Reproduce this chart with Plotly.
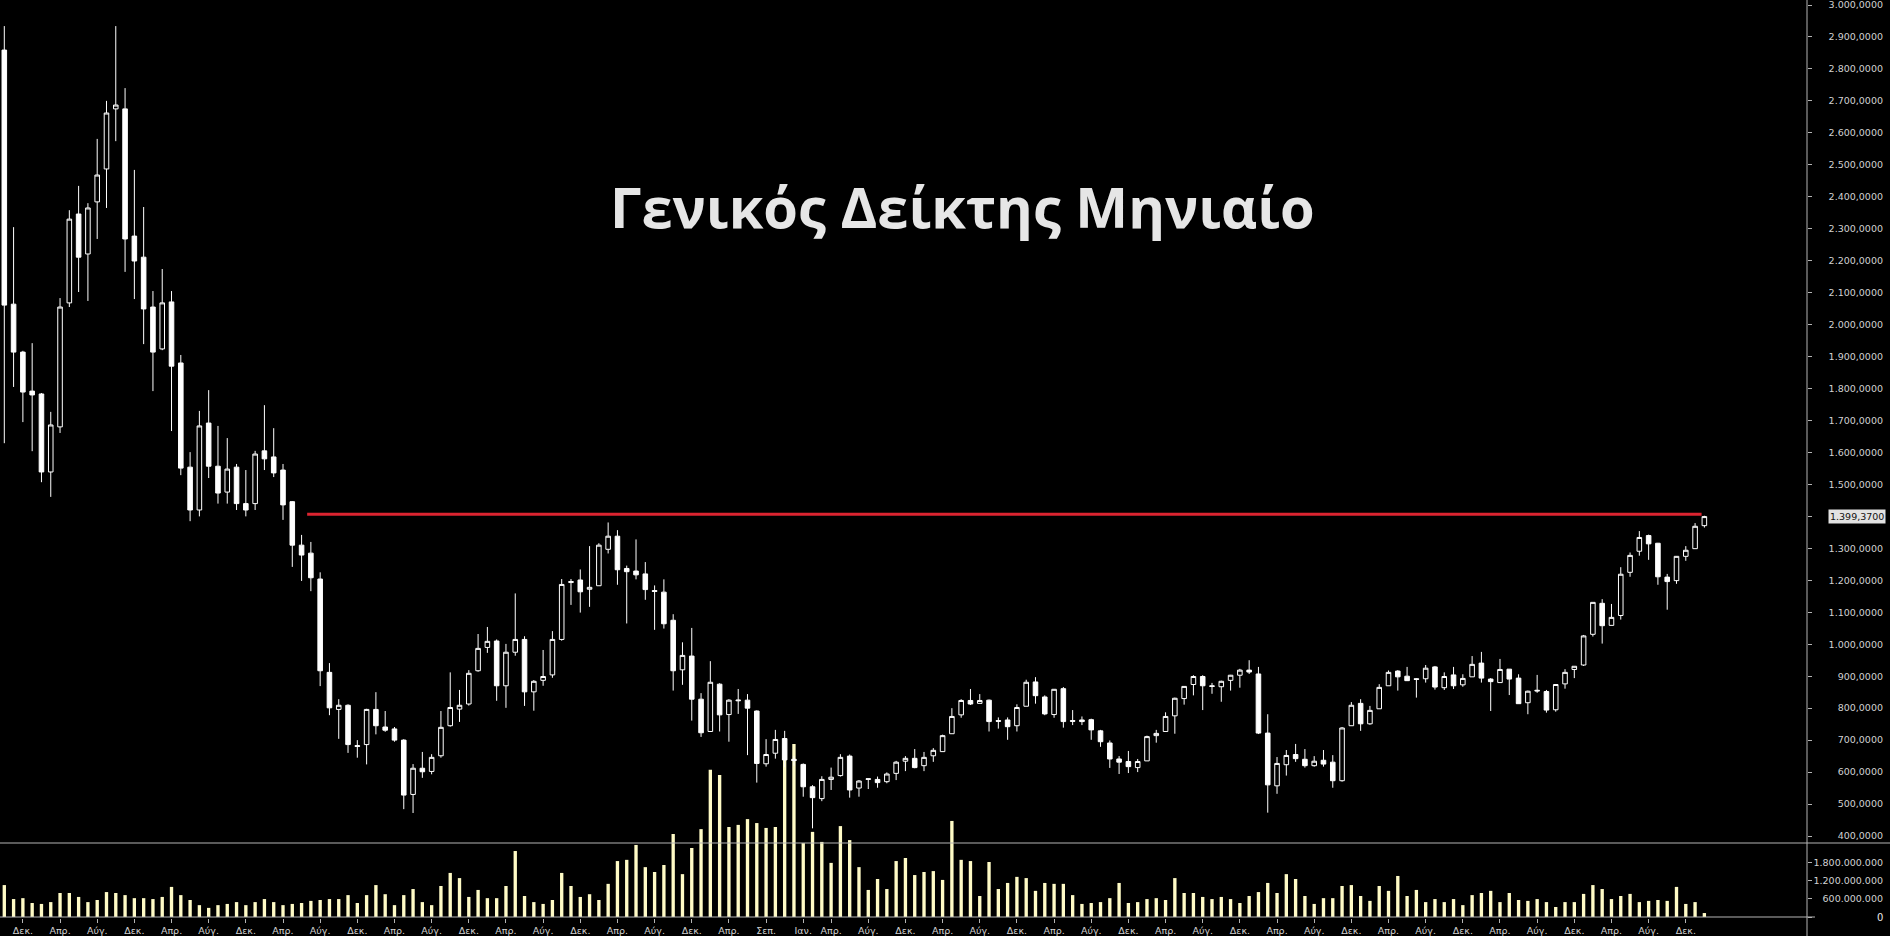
import plotly.graph_objects as go
import pandas as pd

# ---------------- data ----------------
months = [p.strftime('%Y-%m') for p in pd.period_range('2008-10', '2024-02', freq='M')
          if p.strftime('%Y-%m') != '2015-07']

open_ = [2859, 2064, 1914, 1792, 1783, 1539, 1680, 2068, 2346, 2221,
         2384, 2487, 2675, 2675, 2277, 2211, 2055, 1924, 2071, 1880,
         1554, 1420, 1692, 1557, 1476, 1554, 1440, 1440, 1605, 1586,
         1545, 1446, 1310, 1285, 1204, 912, 796, 809, 683, 686,
         796, 741, 735, 700, 530, 612, 602, 651, 745, 797,
         813, 917, 990, 1010, 870, 975, 1015, 851, 887, 904,
         1015, 1193, 1201, 1172, 1183, 1297, 1338, 1237, 1229, 1220,
         1168, 1163, 1075, 920, 963, 828, 727, 875, 780, 823,
         825, 791, 626, 659, 705, 640, 624, 554, 517, 577,
         589, 650, 550, 577, 577, 570, 596, 634, 643, 620,
         651, 664, 720, 779, 824, 815, 825, 761, 763, 745,
         806, 882, 835, 780, 861, 761, 763, 764, 729, 691,
         641, 633, 614, 635, 714, 727, 776, 830, 874, 899,
         870, 867, 887, 903, 919, 907, 722, 557, 623, 655,
         640, 620, 637, 631, 573, 745, 815, 751, 798, 870,
         916, 900, 892, 892, 929, 864, 904, 873, 898, 941,
         891, 880, 922, 894, 817, 856, 852, 795, 876, 921,
         935, 1031, 1128, 1059, 1090, 1225, 1291, 1340, 1316, 1210,
         1199, 1275, 1299, 1371]
high = [2934, 2305, 1918, 1942, 1786, 1727, 2083, 2358, 2434, 2380,
        2581, 2700, 2934, 2740, 2484, 2368, 2105, 2174, 2105, 1905,
        1601, 1730, 1795, 1683, 1645, 1564, 1545, 1605, 1748, 1676,
        1564, 1448, 1342, 1320, 1225, 941, 828, 812, 700, 798,
        850, 791, 741, 703, 625, 663, 656, 791, 912, 857,
        919, 1032, 1054, 1015, 1001, 1159, 1025, 888, 982, 1041,
        1204, 1204, 1234, 1307, 1316, 1381, 1357, 1246, 1328, 1257,
        1184, 1203, 1094, 1006, 1051, 847, 947, 878, 828, 860,
        844, 793, 703, 732, 729, 650, 627, 559, 587, 614,
        656, 655, 575, 580, 586, 599, 635, 650, 672, 663,
        675, 717, 800, 828, 860, 844, 827, 771, 771, 812,
        889, 897, 840, 860, 866, 794, 774, 767, 732, 699,
        650, 666, 641, 714, 732, 787, 833, 868, 903, 903,
        879, 886, 904, 923, 950, 929, 781, 647, 669, 688,
        672, 650, 669, 653, 741, 819, 828, 807, 875, 918,
        919, 929, 894, 935, 932, 912, 929, 906, 963, 976,
        894, 954, 922, 906, 855, 904, 857, 874, 922, 931,
        1029, 1131, 1141, 1126, 1241, 1287, 1354, 1343, 1317, 1220,
        1276, 1307, 1379, 1402]
low = [1629, 1805, 1695, 1604, 1507, 1461, 1661, 2055, 2102, 2074,
       2268, 2365, 2574, 2165, 2080, 1939, 1792, 1920, 1667, 1529,
       1385, 1400, 1520, 1440, 1440, 1420, 1400, 1420, 1545, 1523,
       1389, 1242, 1198, 1166, 869, 778, 704, 660, 645, 624,
       718, 726, 695, 484, 472, 582, 593, 645, 742, 757,
       808, 914, 973, 823, 801, 964, 807, 792, 870, 895,
       1011, 1123, 1099, 1117, 1183, 1284, 1186, 1065, 1203, 1139,
       1045, 1049, 855, 873, 761, 710, 727, 727, 695, 782,
       653, 567, 617, 642, 615, 620, 523, 424, 509, 544,
       586, 520, 523, 547, 551, 565, 575, 603, 612, 603,
       632, 664, 720, 770, 810, 815, 727, 736, 701, 727,
       806, 814, 778, 770, 739, 747, 747, 701, 679, 613,
       594, 597, 600, 635, 692, 727, 720, 811, 840, 794,
       845, 820, 855, 864, 907, 719, 473, 532, 589, 632,
       614, 617, 617, 551, 570, 745, 729, 748, 798, 870,
       855, 886, 833, 880, 858, 857, 860, 867, 898, 880,
       791, 880, 841, 814, 781, 848, 786, 789, 861, 894,
       932, 1024, 1002, 1059, 1077, 1211, 1277, 1264, 1186, 1108,
       1189, 1261, 1299, 1365]
close = [2061, 1914, 1789, 1780, 1539, 1686, 2055, 2330, 2211, 2365,
         2468, 2662, 2687, 2268, 2199, 2049, 1914, 2068, 1870, 1551,
         1420, 1683, 1557, 1473, 1548, 1440, 1420, 1595, 1580, 1536,
         1436, 1310, 1279, 1208, 917, 801, 809, 686, 680, 796,
         745, 731, 700, 528, 612, 601, 646, 740, 802, 809,
         909, 987, 1009, 870, 975, 1015, 851, 884, 899, 1015,
         1187, 1196, 1164, 1178, 1310, 1338, 1233, 1227, 1217, 1171,
         1165, 1064, 917, 965, 828, 723, 881, 779, 825, 825,
         800, 627, 655, 702, 638, 636, 554, 520, 577, 584,
         646, 544, 572, 579, 567, 594, 631, 643, 614, 646,
         668, 714, 774, 824, 813, 824, 758, 759, 742, 802,
         881, 839, 782, 859, 758, 759, 758, 732, 695, 641,
         631, 617, 633, 711, 721, 774, 831, 868, 899, 870,
         868, 884, 903, 919, 913, 722, 560, 627, 652, 642,
         620, 634, 625, 573, 738, 809, 751, 793, 865, 912,
         898, 886, 890, 925, 866, 899, 870, 893, 937, 894,
         883, 921, 891, 814, 853, 854, 794, 874, 912, 931,
         1026, 1131, 1058, 1084, 1219, 1278, 1334, 1314, 1211, 1196,
         1275, 1294, 1369, 1399.37]
# volume in millions
volume_m = [1050, 590, 620, 460, 430, 490, 790, 790, 660, 490,
            560, 820, 790, 720, 620, 620, 590, 660, 990, 720,
            560, 390, 300, 390, 430, 490, 390, 490, 590, 490,
            390, 430, 460, 530, 560, 590, 590, 720, 460, 720,
            1050, 750, 390, 720, 920, 490, 390, 1020, 1450, 1280,
            660, 890, 620, 620, 1020, 2170, 690, 490, 430, 560,
            1450, 1020, 660, 750, 560, 1090, 1840, 1880, 2370, 1640,
            1480, 1710, 2730, 1410, 2270, 2890, 4840, 4670, 2960, 3030,
            3220, 3090, 2930, 2960, 5500, 5690, 2430, 2800, 2470, 1780,
            2990, 2530, 1640, 890, 1250, 920, 1840, 1940, 1380, 1480,
            1510, 1220, 3160, 1880, 1840, 690, 1810, 920, 1120, 1320,
            1280, 860, 1120, 1090, 1090, 720, 430, 460, 490, 620,
            1120, 460, 490, 590, 620, 560, 1280, 790, 790, 660,
            590, 660, 590, 460, 690, 820, 1120, 790, 1410, 1250,
            690, 430, 620, 620, 1020, 1050, 690, 530, 1020, 860,
            1350, 690, 890, 490, 590, 490, 590, 390, 720, 790,
            860, 490, 790, 560, 530, 590, 490, 330, 490, 490,
            760, 1050, 920, 590, 690, 760, 490, 530, 560, 530,
            990, 430, 490, 130]
volume = [v * 1e6 for v in volume_m]

tick_months = (['2008-12']
               + [f'{y}-{m}' for y in range(2009, 2015) for m in ('04', '08', '12')]
               + ['2015-04', '2015-09', '2016-01']
               + [f'{y}-{m}' for y in range(2016, 2024) for m in ('04', '08', '12')])
month_abbr = {'01': 'Ιαν.', '04': 'Απρ.', '08': 'Αύγ.', '09': 'Σεπ.', '12': 'Δεκ.'}
tick_text = [month_abbr[t[5:]] for t in tick_months]

price_ticks = list(range(400, 3001, 100))
volume_ticks = [0, 600_000_000, 1_200_000_000, 1_800_000_000]
resistance_level = 1407
resistance_span = (32.6, 182.7)
title_text = 'Γενικός Δείκτης Μηνιαίο'

# ---------------- helpers ----------------
def gr_price(v):
    s = f'{v:,.4f}'
    return s.replace(',', '#').replace('.', ',').replace('#', '.')

def gr_int(v):
    return f'{int(v):,}'.replace(',', '.')

last_close = close[-1]
price_ticktext = ['' if v == 1400 else gr_price(v) for v in price_ticks]
volume_ticktext = [gr_int(v) for v in volume_ticks]

# ---------------- geometry ----------------
W, H = 1890, 936
M_R, M_B = 5, 18
PLOT_W = W - M_R
PLOT_H = H - M_B
AXIS_X = 1807                       # pixel of right price axis line
XD = AXIS_X / PLOT_W
BAR_X0, BAR_STEP = 4.3, 9.29        # pixel of first bar, pixel spacing
x_range = [-BAR_X0 / BAR_STEP, (AXIS_X - BAR_X0) / BAR_STEP]
PX_PER_UNIT = (836 - 5) / (3000 - 400)
price_range = [400 - (PLOT_H - 836) / PX_PER_UNIT, 3000 + 5 / PX_PER_UNIT]
VOL_PX_PER_B = 30.4
VOL_ZERO_Y = 917
vol_range = [-(PLOT_H - VOL_ZERO_Y) / VOL_PX_PER_B * 1e9, VOL_ZERO_Y / VOL_PX_PER_B * 1e9]
SEP_Y = 843

axis_col = '#b4b4b4'
label_col = '#d2d2d2'
tick_font = dict(family='DejaVu Sans', size=9.5, color=label_col)

fig = go.Figure()
fig.add_trace(go.Bar(x=months, y=volume, yaxis='y', width=0.36,
                     marker=dict(color='#fffbc6', line=dict(width=0)),
                     hoverinfo='skip', showlegend=False))
fig.add_trace(go.Candlestick(x=months, open=open_, high=high, low=low, close=close,
                             yaxis='y2',
                             increasing=dict(line=dict(color='#ffffff', width=1), fillcolor='#000000'),
                             decreasing=dict(line=dict(color='#ffffff', width=1), fillcolor='#ffffff'),
                             hoverinfo='skip', showlegend=False))
# invisible carriers for the label axes
fig.add_trace(go.Scatter(x=[months[0]], y=[1e9], yaxis='y3', mode='markers',
                         marker=dict(opacity=0), hoverinfo='skip', showlegend=False))
fig.add_trace(go.Scatter(x=[months[0]], y=[1000], yaxis='y4', mode='markers',
                         marker=dict(opacity=0), hoverinfo='skip', showlegend=False))

fig.update_layout(
    width=W, height=H,
    margin=dict(l=0, r=M_R, t=0, b=M_B, pad=0),
    paper_bgcolor='#000000', plot_bgcolor='rgba(0,0,0,0)',
    hovermode=False, showlegend=False,
    boxgap=0.3, boxgroupgap=0.3,
    xaxis=dict(type='category', categoryorder='array', categoryarray=months,
               domain=[0, XD], range=x_range, rangeslider=dict(visible=False),
               showgrid=False, zeroline=False, showline=False,
               ticks='outside', ticklen=4, tickcolor=axis_col, tickwidth=1,
               tickvals=tick_months, ticktext=tick_text, tickfont=tick_font,
               ticklabelstandoff=0, ticklabeloverflow='allow'),
    yaxis=dict(domain=[0, 1], range=vol_range, side='right', anchor='x',
               showgrid=False, zeroline=False, showline=False,
               ticks='outside', ticklen=4, tickcolor=axis_col,
               tickvals=volume_ticks, showticklabels=False),
    yaxis2=dict(overlaying='y', range=price_range, side='right', anchor='x',
                showgrid=False, zeroline=False, showline=False,
                ticks='outside', ticklen=4, tickcolor=axis_col,
                tickvals=price_ticks, showticklabels=False),
    yaxis3=dict(overlaying='y', range=vol_range, side='left', anchor='free', position=1,
                showgrid=False, zeroline=False, showline=False, ticks='',
                tickvals=volume_ticks[1:], ticktext=volume_ticktext[1:], tickfont=tick_font,
                ticklabelstandoff=2, ticklabeloverflow='allow'),
    yaxis4=dict(overlaying='y', range=price_range, side='left', anchor='free', position=1,
                showgrid=False, zeroline=False, showline=False, ticks='',
                tickvals=price_ticks, ticktext=price_ticktext, tickfont=tick_font,
                ticklabelstandoff=2, ticklabeloverflow='allow'),
)

sep_paper = (PLOT_H - SEP_Y) / PLOT_H
shapes = [
    # pane separator
    dict(type='line', xref='paper', yref='paper', x0=0, x1=W / PLOT_W, y0=sep_paper, y1=sep_paper,
         line=dict(color=axis_col, width=1)),
    # bottom axis line (volume zero), stopping short of the zero label
    dict(type='line', xref='paper', yref='y', x0=0, x1=(AXIS_X + 8) / PLOT_W, y0=0, y1=0,
         line=dict(color=axis_col, width=1)),
    # right axis line
    dict(type='line', xref='paper', yref='paper', x0=XD, x1=XD, y0=-M_B / PLOT_H, y1=1,
         line=dict(color=axis_col, width=1)),
    # resistance line
    dict(type='line', xref='x', yref='y2', x0=resistance_span[0], x1=resistance_span[1],
         y0=resistance_level, y1=resistance_level, line=dict(color='#dc2430', width=3)),
]
fig.update_layout(shapes=shapes)

fig.add_annotation(text=title_text, xref='paper', yref='paper',
                   x=962 / PLOT_W, y=(PLOT_H - 206) / PLOT_H, xanchor='center', yanchor='middle',
                   showarrow=False,
                   font=dict(family='Open Sans', size=56, color='#e6e6e6', weight='bold'))
# zero label of the volume scale
zero_y_paper = (PLOT_H - VOL_ZERO_Y) / PLOT_H
fig.add_annotation(text=volume_ticktext[0], xref='paper', yref='paper',
                   x=1, y=zero_y_paper, xanchor='right', yanchor='middle', xshift=-1,
                   showarrow=False, borderpad=0, bgcolor='#000000',
                   font=dict(family='DejaVu Sans', size=10, color='#e8e8e8'))
fig.add_annotation(text=gr_price(last_close), xref='paper', yref='y4',
                   x=1, y=last_close, xanchor='right', yanchor='middle', xshift=1,
                   showarrow=False, bgcolor='#e2e2e2', borderpad=1,
                   font=dict(family='DejaVu Sans', size=9.5, color='#111111'))

fig.write_html('out.html', config={'displayModeBar': False},
               post_script="document.body.style.margin='0';document.body.style.padding='0';"
                           "document.body.style.overflow='hidden';"
                           "document.documentElement.style.overflow='hidden';")
